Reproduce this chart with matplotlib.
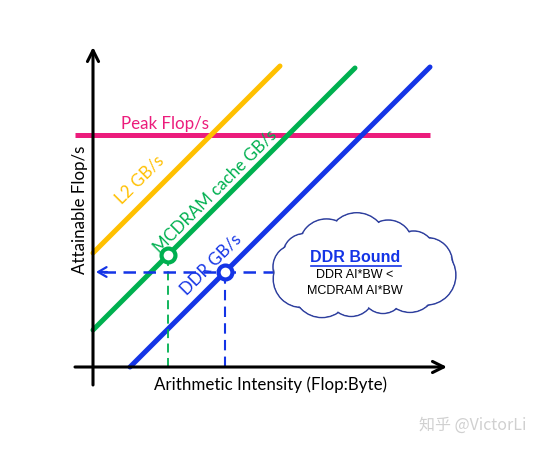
import numpy as np
import matplotlib
matplotlib.use("Agg")
import matplotlib.pyplot as plt
from matplotlib.patches import Circle, Ellipse

# schematic roofline, units are arbitrary (origin at axis crossing)
roof_names = ["L2 GB/s", "MCDRAM cache GB/s", "DDR GB/s"]
roof_offsets = [114, 37, -37]          # y = x + offset
roof_x_start = [0, 0, 37]
roof_x_end = [187, 262, 337]
roof_colors = ["#FFC000", "#00B050", "#1434E6"]

peak_y = 232
peak_x = [-18, 337]

# operating points: x on MCDRAM and DDR lines
point_x = [75, 132]
point_line = [1, 2]

cloud_center = (269, 99)
cloud_size = (92, 51)


def draw_cloud(ax, cx, cy, a, b, n=13, edge="#2E3F9E"):
    # bumps placed on an inner ellipse, outlined then covered in white
    t = np.linspace(0, 2 * np.pi, n, endpoint=False) + 0.2
    rb = 0.30 * b + 0.11 * a
    xs = cx + (a - rb) * np.cos(t)
    ys = cy + (b - rb) * np.sin(t)
    radii = rb * (1 + 0.18 * np.cos(3 * t + 1.0))
    for x, y, r in zip(xs, ys, radii):
        ax.add_patch(Circle((x, y), r, facecolor="white", edgecolor=edge, lw=1.1, zorder=4))
    for x, y, r in zip(xs, ys, radii):
        ax.add_patch(Circle((x, y), r - 1.0, facecolor="white", edgecolor="none", zorder=4.5))
    ax.add_patch(Ellipse((cx, cy), 2 * (a - rb), 2 * (b - rb), facecolor="white", edgecolor="none",
                         zorder=4.6))


fig = plt.figure(figsize=(5.4, 4.49), dpi=100)
ax = fig.add_axes([0, 0, 1, 1])
ax.set_xlim(-93, 447)
ax.set_ylim(-82, 367)
ax.axis("off")

# axes with arrows
arrow = dict(arrowstyle="->,head_length=0.8,head_width=0.4", lw=2.2, color="black", shrinkA=0, shrinkB=0)
ax.annotate("", xy=(354, 0), xytext=(-18, 0), arrowprops=arrow)
ax.annotate("", xy=(0, 320), xytext=(0, -18), arrowprops=arrow)

ax.plot(peak_x, [peak_y, peak_y], color="#EC1C7C", lw=3.6, solid_capstyle="butt")

for off, x0, x1, c in zip(roof_offsets, roof_x_start, roof_x_end, roof_colors):
    xs = np.array([x0, x1])
    ax.plot(xs, xs + off, color=c, lw=3.6, solid_capstyle="round")

# dashed guides
gx = point_x[0]
gy = gx + roof_offsets[point_line[0]]
bx = point_x[1]
by = bx + roof_offsets[point_line[1]]
ax.plot([gx, gx], [0, gy], color="#00B050", lw=1.3, ls=(0, (5, 3)))
ax.plot([bx, bx], [0, by], color="#1434E6", lw=1.5, ls=(0, (5, 3)))
ax.plot([10, 200], [by, by], color="#1434E6", lw=1.8, ls=(0, (5, 3)))
ax.annotate("", xy=(3, by), xytext=(14, by),
            arrowprops=dict(arrowstyle="->,head_length=0.6,head_width=0.35", color="#1434E6", lw=1.6,
                            shrinkA=0, shrinkB=0))

ax.plot([gx], [gy], "o", ms=10, mfc="white", mec="#00B050", mew=3, zorder=5)
ax.plot([bx], [by], "o", ms=10, mfc="white", mec="#1434E6", mew=3, zorder=5)

draw_cloud(ax, cloud_center[0], cloud_center[1], cloud_size[0], cloud_size[1])

font = "Lato"
fs = 12.2
ax.text(72, 243, "Peak Flop/s", color="#EC1C7C", fontsize=fs, family=font, ha="center", va="center")
ax.text(47, 187, roof_names[0], color="#FFC000", fontsize=fs, family=font, ha="center", va="center",
        rotation=45, rotation_mode="anchor")
ax.text(122, 176, roof_names[1], color="#00B050", fontsize=fs, family=font, ha="center", va="center",
        rotation=45, rotation_mode="anchor")
ax.text(118, 103, roof_names[2], color="#1434E6", fontsize=fs, family=font, ha="center", va="center",
        rotation=45, rotation_mode="anchor")

ax.text(262, 110, "DDR Bound", color="#1434E6", fontsize=11.5, fontweight="bold", family="Liberation Sans",
        ha="center", va="center", zorder=6)
ax.plot([218, 308], [101, 101], color="#1434E6", lw=1.2, zorder=6)
ax.text(262, 92, "DDR AI*BW <", color="black", fontsize=9, family="Liberation Sans",
        ha="center", va="center", zorder=6)
ax.text(262, 76, "MCDRAM AI*BW", color="black", fontsize=9, family="Liberation Sans",
        ha="center", va="center", zorder=6)

ax.text(-13, 157, "Attainable Flop/s", fontsize=fs, family=font, rotation=90, ha="center", va="center")
ax.text(177, -18, "Arithmetic Intensity (Flop:Byte)", fontsize=fs, family=font, ha="center", va="center")

ax.text(380, -58, "知乎 @VictorLi", fontsize=11.5, color="#D0D0D0",
        family=["Noto Sans CJK SC", "DejaVu Sans"], ha="center", va="center")

fig.savefig("out.png", dpi=100)
